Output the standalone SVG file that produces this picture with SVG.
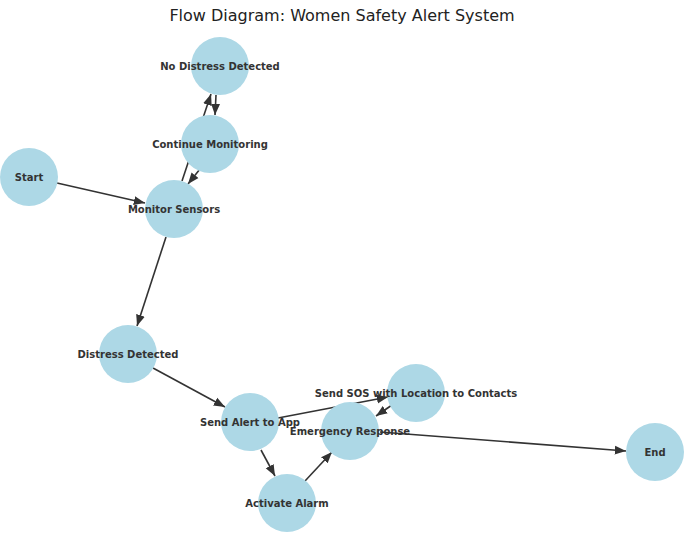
<svg xmlns="http://www.w3.org/2000/svg" width="685" height="534" viewBox="0 0 685 534">
<style>
.n{fill:#ADD8E6}
.t{font-family:"DejaVu Sans",sans-serif;font-size:10px;font-weight:bold;fill:#333;text-anchor:middle;dominant-baseline:central}
.e{stroke:#333;stroke-width:1.6;fill:none;marker-end:url(#a)}
</style>
<defs><marker id="a" viewBox="0 0 10 10" refX="10" refY="5" markerWidth="7" markerHeight="7" orient="auto"><path d="M0,1 L10,5 L0,9 z" fill="#333"/></marker></defs>
<rect width="685" height="534" fill="#fff"/>
<text x="342" y="15" font-family="DejaVu Sans,sans-serif" font-size="16" fill="#222" text-anchor="middle" dominant-baseline="central">Flow Diagram: Women Safety Alert System</text>
<g id="edges">
<line class="e" x1="57" y1="183" x2="145" y2="203"/>
<line class="e" x1="182" y1="181" x2="211" y2="94"/>
<line class="e" x1="216" y1="95" x2="215" y2="115"/>
<line class="e" x1="200" y1="169" x2="188" y2="184"/>
<line class="e" x1="166" y1="237" x2="137" y2="326"/>
<line class="e" x1="153" y1="368" x2="225" y2="407"/>
<line class="e" x1="278" y1="418" x2="388" y2="397"/>
<line class="e" x1="392" y1="405" x2="376" y2="416"/>
<line class="e" x1="261" y1="450" x2="275" y2="476"/>
<line class="e" x1="305" y1="481" x2="332" y2="452"/>
<line class="e" x1="380" y1="432" x2="626" y2="451"/>
</g>
<g id="n1"><circle class="n" cx="220" cy="66" r="29"/><text class="t" x="220" y="66">No Distress Detected</text></g>
<g id="n2"><circle class="n" cx="210" cy="144" r="29"/><text class="t" x="210" y="144">Continue Monitoring</text></g>
<g id="n3"><circle class="n" cx="29" cy="177" r="29"/><text class="t" x="29" y="177">Start</text></g>
<g id="n4"><circle class="n" cx="174" cy="209" r="29"/><text class="t" x="174" y="209">Monitor Sensors</text></g>
<g id="n5"><circle class="n" cx="128" cy="354" r="29"/><text class="t" x="128" y="354">Distress Detected</text></g>
<g id="n6"><circle class="n" cx="416" cy="393" r="29"/></g>
<g id="n7"><circle class="n" cx="250" cy="422" r="29"/></g>
<g id="n8"><circle class="n" cx="350" cy="431" r="29"/><text class="t" x="350" y="431">Emergency Response</text></g>
<g id="n7t"><text class="t" x="250" y="422">Send Alert to App</text></g>
<g id="n6t"><text class="t" x="416" y="393">Send SOS with Location to Contacts</text></g>
<g id="n9"><circle class="n" cx="655" cy="452" r="29"/><text class="t" x="655" y="452">End</text></g>
<g id="n10"><circle class="n" cx="287" cy="503" r="29"/><text class="t" x="287" y="503">Activate Alarm</text></g>
</svg>
